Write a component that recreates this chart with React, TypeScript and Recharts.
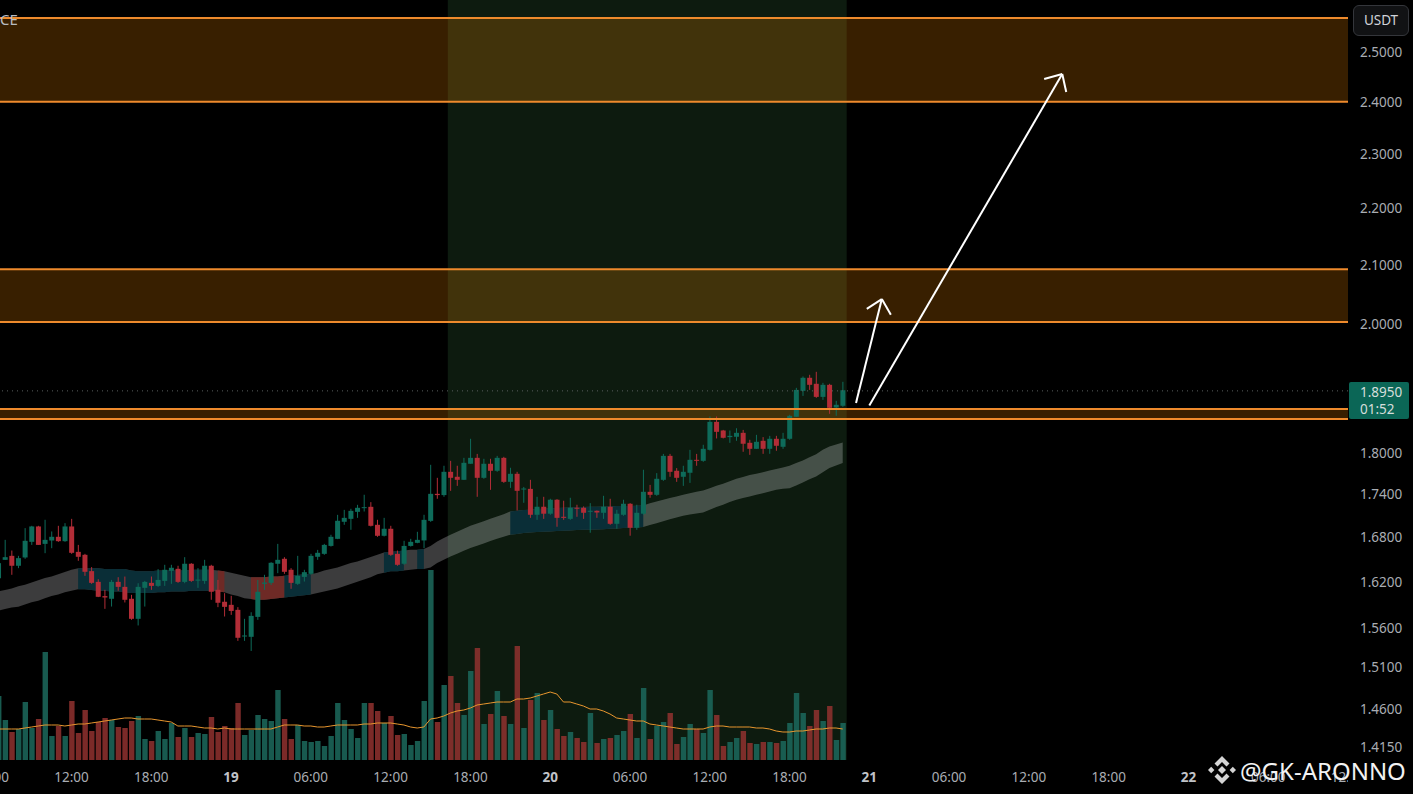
import React from "react";
import {
  ComposedChart, Bar, Line, Area, XAxis, YAxis, ReferenceArea, ReferenceLine,
} from "recharts";

// half-hour candles, hours since the 18th 00:00: first candle at 6.5, last at 70
const firstHour = 6.5;
const highs = [
  1.6515,1.6764,1.6618,1.6546,1.6926,1.6958,1.6958,1.7042,1.6880,1.6958,1.6995,
  1.7055,1.6695,1.6573,1.6394,1.6232,1.6092,1.6223,1.6259,1.6268,1.6026,
  1.6179,1.6210,1.6268,1.6367,1.6425,1.6425,1.6412,1.6528,1.6447,1.6380,
  1.6492,1.6425,1.6223,1.6048,1.6013,1.5865,1.5714,1.5799,1.6223,1.6291,
  1.6460,1.6709,1.6528,1.6380,1.6546,1.6358,1.6573,1.6627,1.6709,1.6834,
  1.7111,1.7181,1.7196,1.7252,1.7395,1.7290,1.7042,1.7069,1.6958,1.6618,
  1.6751,1.6778,1.6875,1.7112,1.7827,1.7638,1.7813,1.7885,1.7813,1.7929,
  1.8211,1.7987,1.7915,1.7915,1.7958,1.7944,1.7784,1.7725,1.7507,1.7609,
  1.7366,1.7366,1.7338,1.7333,1.7310,1.7352,1.7253,1.7230,1.7276,1.7173,
  1.7380,1.7338,1.7182,1.7324,1.7276,1.7253,1.7755,1.7536,1.7706,1.7987,
  1.7987,1.7779,1.7813,1.8047,1.7987,1.8122,1.8547,1.8547,1.8344,1.8335,
  1.8369,1.8344,1.8196,1.8270,1.8236,1.8255,1.8255,1.8300,1.8572,1.8987,
  1.9165,1.9191,1.9238,1.9065,1.9050,1.8786,1.9081,
];
const lows = [
  1.6144,1.6492,1.6291,1.6380,1.6506,1.6695,1.6695,1.6582,1.6650,1.6737,1.6737,
  1.6573,1.6479,1.6277,1.6171,1.5996,1.5843,1.5873,1.6079,1.5926,1.5701,
  1.5629,1.5873,1.6092,1.6131,1.6144,1.6171,1.6184,1.6179,1.6197,1.6118,
  1.6171,1.5961,1.5865,1.5744,1.5765,1.5433,1.5433,1.5306,1.5701,1.6092,
  1.6157,1.6313,1.6304,1.6105,1.6157,1.6201,1.6291,1.6492,1.6560,1.6672,
  1.6774,1.6972,1.6903,1.7069,1.7158,1.6949,1.6806,1.6811,1.6546,1.6412,
  1.6425,1.6672,1.6718,1.6651,1.7013,1.7338,1.7366,1.7451,1.7522,1.7609,
  1.7842,1.7366,1.7624,1.7465,1.7725,1.7565,1.7493,1.7173,1.7281,1.7069,
  1.7041,1.7055,1.7112,1.6945,1.7041,1.7041,1.7084,1.7055,1.6862,1.7069,
  1.7055,1.6972,1.6917,1.7098,1.6821,1.6903,1.7112,1.7352,1.7380,1.7594,
  1.7653,1.7580,1.7522,1.7565,1.7813,1.7871,1.8037,1.8216,1.8216,1.8151,
  1.8181,1.8018,1.7973,1.8062,1.7988,1.7988,1.8033,1.8062,1.8196,1.8542,
  1.8862,1.8955,1.8832,1.8801,1.8588,1.8557,1.8694,
];
const opens = [
  1.6245,1.6492,1.6546,1.6412,1.6524,1.6737,1.6949,1.6709,1.6755,1.6806,1.6746,
  1.6949,1.6600,1.6560,1.6340,1.6197,1.6009,1.5974,1.6197,1.6131,1.5974,
  1.5714,1.6118,1.6184,1.6144,1.6210,1.6344,1.6371,1.6197,1.6439,1.6214,
  1.6210,1.6412,1.6092,1.5935,1.5895,1.5830,1.5488,1.5484,1.5739,1.6171,
  1.6184,1.6439,1.6506,1.6358,1.6171,1.6263,1.6304,1.6533,1.6573,1.6681,
  1.6778,1.7014,1.7055,1.7153,1.7205,1.7224,1.6972,1.6820,1.6917,1.6573,
  1.6439,1.6681,1.6723,1.6756,1.7027,1.7408,1.7390,1.7725,1.7653,1.7609,
  1.7842,1.7929,1.7638,1.7842,1.7740,1.7929,1.7580,1.7696,1.7474,1.7479,
  1.7112,1.7225,1.7127,1.7324,1.7084,1.7055,1.7211,1.7211,1.7154,1.7168,
  1.7140,1.7225,1.6986,1.7112,1.7267,1.6931,1.7127,1.7437,1.7394,1.7609,
  1.7958,1.7740,1.7653,1.7711,1.7900,1.7885,1.8047,1.8465,1.8335,1.8236,
  1.8241,1.8300,1.8151,1.8062,1.8181,1.8062,1.8211,1.8092,1.8211,1.8542,
  1.8940,1.9144,1.9050,1.8847,1.9034,1.8684,1.8710,
];
const closes = [
  1.6447,1.6528,1.6412,1.6515,1.6751,1.6949,1.6695,1.6764,1.6806,1.6746,1.6949,
  1.6587,1.6533,1.6331,1.6184,1.6000,1.5991,1.6197,1.6131,1.5961,1.5714,
  1.6131,1.6197,1.6144,1.6223,1.6358,1.6385,1.6197,1.6439,1.6210,1.6227,
  1.6412,1.6066,1.5922,1.5869,1.5816,1.5472,1.5501,1.5752,1.6066,1.6188,
  1.6452,1.6492,1.6331,1.6184,1.6277,1.6326,1.6546,1.6587,1.6695,1.6806,
  1.7028,1.7069,1.7167,1.7210,1.7219,1.6958,1.6820,1.6917,1.6560,1.6425,
  1.6681,1.6737,1.6764,1.7041,1.7408,1.7390,1.7725,1.7638,1.7609,1.7856,
  1.7929,1.7638,1.7842,1.7740,1.7929,1.7580,1.7696,1.7451,1.7484,1.7112,
  1.7225,1.7127,1.7324,1.7069,1.7069,1.7211,1.7197,1.7140,1.7168,1.7144,
  1.7225,1.6986,1.7127,1.7267,1.6931,1.7140,1.7437,1.7394,1.7624,1.7958,
  1.7725,1.7638,1.7725,1.7900,1.7885,1.8062,1.8465,1.8315,1.8226,1.8255,
  1.8300,1.8137,1.8062,1.8166,1.8062,1.8211,1.8107,1.8211,1.8557,1.8955,
  1.9144,1.9034,1.8847,1.9034,1.8679,1.8725,1.8950,
];
const volumes = [
  64,40,28,31,58,32,41,108,24,34,24,
  59,27,50,29,38,42,40,33,32,39,
  44,21,19,29,21,37,23,32,23,27,
  26,43,28,34,32,57,25,30,45,41,
  39,70,41,21,35,19,18,19,14,24,
  57,40,31,22,57,57,49,37,44,25,
  26,15,19,59,190,38,75,84,57,45,
  89,112,36,46,69,44,36,114,32,60,
  67,40,50,31,24,28,22,18,47,17,
  21,22,25,29,46,22,72,21,34,38,
  47,16,23,36,31,27,70,45,14,18,
  22,29,17,16,18,18,17,19,37,67,
  47,34,50,39,54,20,37,
];
const volumeAverage = [
  31,31,31,31,32,33,34,35,35,35,34,
  35,36,36,37,38,39,40,41,42,42,
  41,41,41,40,39,38,34,34,34,33,
  32,32,31,32,31,31,31,31,31,31,
  31,33,35,35,35,34,34,33,33,34,
  35,35,35,35,36,36,37,37,37,36,
  35,33,32,33,41,42,44,47,49,50,
  52,55,56,57,58,58,58,61,61,62,
  64,66,68,66,58,58,56,54,51,51,
  49,46,42,41,40,39,39,36,35,34,
  33,32,31,31,31,31,33,34,34,33,
  33,33,33,32,32,31,29,28,28,29,
  29,30,31,31,32,32,31,
];
const ribbonHigh = [
  1.607,1.609,1.611,1.614,1.616,1.619,1.622,1.625,1.627,1.630,1.633,
  1.636,1.638,1.638,1.638,1.638,1.637,1.637,1.637,1.637,1.635,
  1.634,1.634,1.634,1.635,1.635,1.635,1.635,1.635,1.636,1.636,
  1.636,1.636,1.635,1.634,1.632,1.630,1.628,1.626,1.626,1.626,
  1.627,1.627,1.628,1.629,1.629,1.630,1.630,1.632,1.635,1.637,
  1.639,1.642,1.645,1.647,1.650,1.653,1.656,1.659,1.660,1.661,
  1.662,1.663,1.663,1.664,1.668,1.6743,1.6789,1.6834,1.6876,1.6917,
  1.6958,1.6990,1.7022,1.7055,1.7088,1.7121,1.7159,1.7168,1.7178,1.7182,
  1.7192,1.7196,1.7201,1.7206,1.7211,1.7215,1.7220,1.7220,1.7225,1.7225,
  1.7229,1.7229,1.7234,1.7234,1.7234,1.7239,1.7243,1.7276,1.7300,1.7324,
  1.7347,1.7371,1.7394,1.7418,1.7437,1.7455,1.7488,1.7522,1.7551,1.7590,
  1.7624,1.7648,1.7677,1.7696,1.7720,1.7745,1.7764,1.7788,1.7813,1.7852,
  1.7890,1.7939,1.7982,1.8047,1.8097,1.8126,1.8156,
];
const ribbonLow = [
  1.582,1.584,1.586,1.587,1.590,1.593,1.595,1.598,1.601,1.603,1.606,
  1.608,1.610,1.610,1.609,1.608,1.608,1.607,1.607,1.606,1.605,
  1.605,1.605,1.605,1.606,1.606,1.607,1.607,1.607,1.608,1.608,
  1.608,1.608,1.607,1.606,1.603,1.601,1.598,1.597,1.596,1.596,
  1.597,1.598,1.599,1.600,1.601,1.602,1.603,1.605,1.607,1.609,
  1.611,1.614,1.617,1.620,1.623,1.626,1.630,1.632,1.634,1.634,
  1.635,1.636,1.637,1.637,1.639,1.6448,1.6493,1.6537,1.6573,1.6614,
  1.6651,1.6683,1.6715,1.6747,1.6779,1.6807,1.6834,1.6844,1.6857,1.6866,
  1.6871,1.6876,1.6880,1.6885,1.6889,1.6894,1.6899,1.6903,1.6903,1.6908,
  1.6912,1.6917,1.6922,1.6926,1.6931,1.6935,1.6940,1.6968,1.6995,1.7022,
  1.7050,1.7074,1.7098,1.7117,1.7131,1.7145,1.7182,1.7220,1.7253,1.7291,
  1.7324,1.7347,1.7371,1.7394,1.7418,1.7441,1.7465,1.7479,1.7488,1.7527,
  1.7570,1.7619,1.7658,1.7720,1.7779,1.7818,1.7852,
];
// ribbon colour spans, in candle hours
const tealSpans = [[12.5,16],[16.5,22.5],[28,30],[35.5,37],[38,38.5],[45,45.5],[46,55]];
const redSpans = [[23,23.5],[25.5,28]];

const priceTicks = [2.5,2.4,2.3,2.2,2.1,2.0,1.895,1.8,1.74,1.68,1.62,1.56,1.51,1.46,1.415];
const lastPrice = 1.895;
const lastPriceLine = 1.894;
const timeTickHours = [6,12,18,24,30,36,42,48,54,60,66,72,78,84,90,96,102,108];
const timeTickLabels = ["06:00","12:00","18:00","19","06:00","12:00","18:00","20","06:00","12:00","18:00","21","06:00","12:00","18:00","22","06:00","12:00"];
const dayLabels = ["19","20","21","22"];

const zones = [[2.4,2.5706],[2.0038,2.0926],[1.851,1.8662]];
const sessionHours = [40.3,70.3];
const arrowSegments = [
  [[71.0,1.8752],[72.94,2.0419]],
  [[71.81,2.0255],[72.94,2.0419]],
  [[73.62,2.0158],[72.94,2.0419]],
  [[72,1.8714],[86.51,2.4554]],
  [[85.15,2.4453],[86.51,2.4554]],
  [[86.81,2.4194],[86.51,2.4554]],
];

const rows = highs.map((high, i) => ({
  hour: firstHour + i / 2, high, low: lows[i], open: opens[i], close: closes[i],
  volume: volumes[i], average: volumeAverage[i], ribbonHigh: ribbonHigh[i], ribbonLow: ribbonLow[i],
}));

const UP = "#0e6b5a";
const DOWN = "#b22d37";
const AXIS_FONT = '"Noto Sans", sans-serif';

const wickRange = (d: any) => [d.low, d.high];
const ribbonAll = (d: any) => [d.ribbonLow, d.ribbonHigh];
const inSpans = (spans: number[][]) => (d: any) =>
  spans.some(([a, b]) => d.hour >= a && d.hour <= b) ? [d.ribbonLow, d.ribbonHigh] : null;
const ribbonTeal = inSpans(tealSpans);
const ribbonRed = inSpans(redSpans);

function Candle(props: any) {
  const { x, y, width, height, payload } = props;
  const { high, low, open, close } = payload;
  const span = Math.log(high) - Math.log(low) || 1;
  const at = (v: number) => y + (height * (Math.log(high) - Math.log(v))) / span;
  const top = at(Math.max(open, close));
  const bottom = at(Math.min(open, close));
  const fill = close >= open ? UP : DOWN;
  const cx = x + width / 2;
  return (
    <g>
      <rect x={cx - 0.5} y={y} width={1} height={height} fill={fill} />
      <rect x={x} y={top} width={width} height={Math.max(1, bottom - top)} fill={fill} />
    </g>
  );
}

function VolumeBar(props: any) {
  const { x, y, width, height, payload } = props;
  return <rect x={x} y={y} width={width} height={height}
    fill={payload.close >= payload.open ? "rgba(28,105,92,0.86)" : "rgba(146,50,48,0.84)"} />;
}

function PriceTick(props: any) {
  const { y, payload } = props;
  if (payload.value === lastPrice) {
    return (
      <g fontFamily={AXIS_FONT} fontSize={13.5} fill="#d5dedb">
        <rect x={1349} y={382} width={60} height={37} rx={2} fill="#0b6656" />
        <text x={1360} y={392} dominantBaseline="central">1.8950</text>
        <text x={1360} y={409} dominantBaseline="central">01:52</text>
      </g>
    );
  }
  return (
    <text x={1360} y={y} dominantBaseline="central" fontFamily={AXIS_FONT} fontSize={13.5} fill="#a9adb3">
      {payload.value.toFixed(4)}
    </text>
  );
}

function TimeTick(props: any) {
  const { x, payload } = props;
  const label = timeTickLabels[timeTickHours.indexOf(payload.value)];
  const isDay = dayLabels.includes(label);
  return (
    <g clipPath="url(#plotColumn)">
      <text x={x} y={777} textAnchor="middle" dominantBaseline="central" fontFamily={AXIS_FONT}
        fontSize={13.5} fontWeight={isDay ? 700 : 400} fill={isDay ? "#c0c3c8" : "#a9adb3"}>
        {label}
      </text>
    </g>
  );
}

const overlay = (style: React.CSSProperties): React.CSSProperties => ({
  position: "absolute", fontFamily: AXIS_FONT, whiteSpace: "nowrap", ...style,
});

export default function App() {
  const xDomain: [number, number] = [6.624, 108];
  return (
    <div style={{ position: "fixed", left: 0, top: 0, width: 1413, height: 794, background: "#000", overflow: "hidden" }}>
      <ComposedChart width={1413} height={794} data={rows} margin={{ top: 0, right: 0, bottom: 0, left: 0 }}>
        <defs>
          <clipPath id="plotColumn"><rect x={0} y={0} width={1348} height={794} /></clipPath>
        </defs>
        <XAxis dataKey="hour" type="number" domain={xDomain} allowDataOverflow ticks={timeTickHours}
          interval={0} height={34} axisLine={false} tickLine={false} tick={<TimeTick />} />
        <XAxis xAxisId="v" dataKey="hour" type="number" domain={xDomain} allowDataOverflow hide />
        <YAxis orientation="right" width={65} scale="log" type="number" domain={[1.3998, 2.6087]} allowDataOverflow
          ticks={priceTicks} interval={0} axisLine={false} tickLine={false} tick={<PriceTick />} />
        <YAxis yAxisId="v" hide type="number" domain={[0, 760]} allowDataOverflow />

        <ReferenceArea x1={sessionHours[0]} x2={sessionHours[1]} fill="#0d1b0f" fillOpacity={1} stroke="none" />

        <Area dataKey={ribbonAll} stroke="none" fill="rgb(250,250,255)" fillOpacity={0.24} dot={false} activeDot={false} isAnimationActive={false} />
        <Area dataKey={ribbonTeal} stroke="none" fill="#0a2e37" fillOpacity={1} dot={false} activeDot={false} isAnimationActive={false} />
        <Area dataKey={ribbonRed} stroke="none" fill="#6e2a26" fillOpacity={1} dot={false} activeDot={false} isAnimationActive={false} />

        <Bar xAxisId="v" yAxisId="v" dataKey="volume" barSize={5.4} shape={<VolumeBar />} isAnimationActive={false} />
        <Line xAxisId="v" yAxisId="v" dataKey="average" stroke="#e8962e" strokeWidth={1} dot={false} activeDot={false} isAnimationActive={false} />

        <Bar dataKey={wickRange} barSize={5} shape={<Candle />} isAnimationActive={false} />

        {zones.map(([a, b]) => (
          <ReferenceArea key={a} y1={a} y2={b} fill="rgb(236,132,0)" fillOpacity={0.235} stroke="none" />
        ))}
        <ReferenceLine y={lastPriceLine} stroke="#5a5f5e" strokeDasharray="1 4" strokeWidth={1} />
        {zones.flat().map((v) => (
          <ReferenceLine key={v} y={v} stroke="#ee8a2c" strokeWidth={2} />
        ))}
        {arrowSegments.map(([a, b], i) => (
          <ReferenceLine key={i} segment={[{ x: a[0], y: a[1] }, { x: b[0], y: b[1] }]} stroke="#fff" strokeWidth={2} />
        ))}
      </ComposedChart>

      <div style={overlay({ left: 0, top: 9, fontSize: 15, color: "#b8bcc2" })}>CE</div>
      <div style={overlay({ left: 1353, top: 5, width: 54, height: 29, lineHeight: "29px", textAlign: "center", fontSize: 13.5, color: "#d0d3d8", background: "#111214", border: "1px solid #34363b", borderRadius: 6 })}>USDT</div>
      <svg style={{ position: "absolute", left: 1208, top: 756 }} width={28} height={28} viewBox="0 0 28 28" fill="#d4d4d4">
        <path d="M14 0l7.5 7.5-3 3L14 6l-4.5 4.5-3-3z" />
        <path d="M14 28l-7.5-7.5 3-3L14 22l4.5-4.5 3 3z" />
        <path d="M0 14l3.2-3.2L6.4 14l-3.2 3.2z" />
        <path d="M28 14l-3.2-3.2L21.6 14l3.2 3.2z" />
        <path d="M14 10l4 4-4 4-4-4z" />
      </svg>
      <div style={overlay({ left: 1240, top: 754, fontSize: 24, color: "#f2f2f2" })}>@GK-ARONNO</div>
    </div>
  );
}
